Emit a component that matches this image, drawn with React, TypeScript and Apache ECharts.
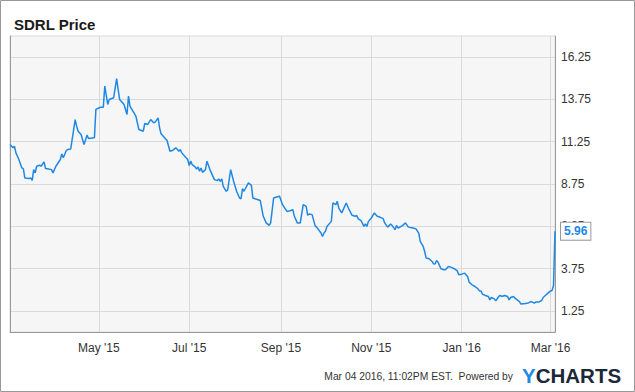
import { useEffect, useRef } from 'react';
import * as echarts from 'echarts';

const titleText = 'SDRL Price';
const footerText = 'Mar 04 2016, 11:02PM EST.  Powered by';
const brandFirst = 'Y';
const brandRest = 'CHARTS';

const dates = [
  '2015-03-02','2015-03-04','2015-03-05','2015-03-06','2015-03-08','2015-03-10','2015-03-11','2015-03-12','2015-03-15','2015-03-16',
  '2015-03-17','2015-03-18','2015-03-19','2015-03-20','2015-03-22','2015-03-23','2015-03-25','2015-03-26','2015-03-28','2015-03-30',
  '2015-03-31','2015-04-02','2015-04-05','2015-04-06','2015-04-07','2015-04-09','2015-04-10','2015-04-12','2015-04-15','2015-04-16',
  '2015-04-17','2015-04-19','2015-04-21','2015-04-23','2015-04-24','2015-04-28','2015-04-29','2015-05-02','2015-05-04','2015-05-05',
  '2015-05-07','2015-05-08','2015-05-11','2015-05-13','2015-05-15','2015-05-17','2015-05-18','2015-05-20','2015-05-21','2015-05-22',
  '2015-05-24','2015-05-26','2015-05-28','2015-05-31','2015-06-01','2015-06-03','2015-06-05','2015-06-07','2015-06-08','2015-06-10',
  '2015-06-11','2015-06-12','2015-06-15','2015-06-16','2015-06-18','2015-06-20','2015-06-22','2015-06-24','2015-06-25','2015-06-26',
  '2015-06-28','2015-06-30','2015-07-01','2015-07-02','2015-07-03','2015-07-05','2015-07-06','2015-07-07','2015-07-08','2015-07-09',
  '2015-07-10','2015-07-12','2015-07-13','2015-07-15','2015-07-16','2015-07-18','2015-07-20','2015-07-21','2015-07-22','2015-07-23',
  '2015-07-24','2015-07-26','2015-07-27','2015-07-29','2015-07-31','2015-08-02','2015-08-04','2015-08-05','2015-08-06','2015-08-07',
  '2015-08-10','2015-08-12','2015-08-13','2015-08-16','2015-08-18','2015-08-20','2015-08-22','2015-08-24','2015-08-25','2015-08-27',
  '2015-08-29','2015-08-31','2015-09-02','2015-09-05','2015-09-07','2015-09-09','2015-09-10','2015-09-12','2015-09-14','2015-09-16',
  '2015-09-18','2015-09-19','2015-09-20','2015-09-22','2015-09-24','2015-09-25','2015-09-28','2015-09-29','2015-09-30','2015-10-01',
  '2015-10-02','2015-10-05','2015-10-06','2015-10-08','2015-10-09','2015-10-10','2015-10-12','2015-10-15','2015-10-17','2015-10-19',
  '2015-10-21','2015-10-22','2015-10-23','2015-10-25','2015-10-27','2015-10-28','2015-10-29','2015-10-30','2015-11-01','2015-11-03',
  '2015-11-05','2015-11-07','2015-11-09','2015-11-10','2015-11-12','2015-11-14','2015-11-15','2015-11-17','2015-11-18','2015-11-19',
  '2015-11-22','2015-11-24','2015-11-26','2015-11-29','2015-12-01','2015-12-03','2015-12-04','2015-12-06','2015-12-07','2015-12-08',
  '2015-12-10','2015-12-12','2015-12-13','2015-12-14','2015-12-15','2015-12-16','2015-12-18','2015-12-20','2015-12-21','2015-12-23',
  '2015-12-25','2015-12-27','2015-12-29','2015-12-30','2016-01-01','2016-01-03','2016-01-05','2016-01-06','2016-01-08','2016-01-10',
  '2016-01-12','2016-01-13','2016-01-14','2016-01-15','2016-01-17','2016-01-19','2016-01-20','2016-01-21','2016-01-23','2016-01-24',
  '2016-01-26','2016-01-27','2016-01-28','2016-01-30','2016-02-01','2016-02-02','2016-02-03','2016-02-05','2016-02-06','2016-02-09',
  '2016-02-10','2016-02-13','2016-02-15','2016-02-17','2016-02-19','2016-02-20','2016-02-22','2016-02-24','2016-02-25','2016-02-27',
  '2016-02-29','2016-03-01','2016-03-02','2016-03-03','2016-03-04'
];

const prices = [
  11.08,10.89,10.98,10.59,10.20,9.70,9.66,9.11,9.07,9.11,
  8.97,9.60,9.41,9.80,9.86,9.80,10.06,9.66,9.64,9.60,
  9.41,9.80,10.20,10.53,10.30,10.73,10.79,10.82,12.56,12.17,
  11.87,11.68,11.08,11.64,11.44,11.48,13.16,13.29,13.29,14.54,
  13.45,13.75,13.85,14.98,13.75,13.55,13.45,12.86,13.95,13.35,
  13.06,12.76,11.97,11.87,12.33,12.27,12.56,12.37,12.41,12.66,
  12.07,11.72,11.42,11.34,10.69,10.75,10.89,10.69,10.79,10.59,
  10.39,10.20,9.84,10.10,9.90,9.76,9.64,9.76,9.50,9.70,
  9.44,9.60,10.10,9.60,9.41,9.01,8.95,9.05,8.91,9.05,
  8.61,8.32,8.40,9.60,8.91,8.32,7.92,7.88,8.48,8.32,
  8.82,8.67,7.92,7.83,7.77,6.84,6.45,6.30,6.45,7.92,
  7.98,8.02,7.53,7.13,7.17,7.23,6.84,6.45,6.45,7.53,
  7.43,6.90,6.98,6.94,6.29,6.20,5.85,5.65,5.85,5.95,
  6.24,6.54,7.63,7.53,7.72,7.33,7.04,7.63,7.23,6.90,
  6.84,6.90,6.70,6.58,6.24,6.39,6.24,6.54,6.74,7.04,
  6.84,6.78,6.70,6.45,6.20,6.39,6.30,6.05,6.30,6.15,
  6.29,6.45,6.20,6.15,6.11,5.85,5.36,5.06,4.76,4.37,
  4.33,4.17,4.03,4.02,4.23,4.13,3.74,3.68,3.68,3.87,
  3.82,3.74,3.62,3.38,3.42,3.48,3.28,2.95,2.79,2.69,
  2.55,2.43,2.43,2.24,2.16,2.10,1.90,2.04,1.96,1.84,
  2.10,2.16,2.10,2.16,2.10,1.90,2.04,2.10,2.00,1.80,
  1.65,1.68,1.72,1.80,1.71,1.77,1.77,1.86,2.04,2.20,
  2.36,2.43,2.45,2.75,5.96
];

const monthTicks = ['2015-05-01', '2015-07-01', '2015-09-01', '2015-11-01', '2016-01-01', '2016-03-01'];
const yTickLabels = ['1.25', '3.75', '6.25', '8.75', '11.25', '13.75', '16.25'];
const monthNames = ['Jan', 'Feb', 'Mar', 'Apr', 'May', 'Jun', 'Jul', 'Aug', 'Sep', 'Oct', 'Nov', 'Dec'];

function toTime(s: string): number {
  const [y, m, d] = s.split('-').map(Number);
  return Date.UTC(y, m - 1, d);
}

const FONT = '"Liberation Sans", Arial, sans-serif';

export default function App() {
  const ref = useRef<HTMLDivElement>(null);

  useEffect(() => {
    if (!ref.current) return;
    const chart = echarts.init(ref.current, undefined, { renderer: 'svg' });
    const seriesData = dates.map((d, i) => [toTime(d), prices[i]]);
    const tickTimes = monthTicks.map(toTime);

    chart.setOption({
      animation: false,
      backgroundColor: '#ffffff',
      title: {
        text: titleText,
        left: 9,
        top: 12,
        textStyle: { fontSize: 15, fontWeight: 'bold', color: '#1a1a1a', fontFamily: FONT },
      },
      grid: {
        left: 10,
        top: 36,
        right: 80,
        bottom: 60,
        show: true,
        backgroundColor: '#f6f6f6',
        borderColor: '#dadada',
        borderWidth: 1,
      },
      xAxis: {
        type: 'value',
        min: toTime(dates[0]),
        max: toTime(dates[dates.length - 1]),
        axisLine: { show: true, lineStyle: { color: '#999999', width: 1 } },
        axisTick: { show: false, customValues: tickTimes },
        axisLabel: {
          customValues: tickTimes,
          color: '#333333',
          fontSize: 12,
          fontFamily: FONT,
          margin: 10,
          hideOverlap: false,
          showMinLabel: true,
          showMaxLabel: true,
          formatter: (v: number) => {
            const dt = new Date(v);
            return monthNames[dt.getUTCMonth()] + " '" + String(dt.getUTCFullYear()).slice(2);
          },
        },
        splitLine: { show: true, showMinLine: true, showMaxLine: true, lineStyle: { color: '#dadada', width: 1 } },
      },
      yAxis: [
        {
          type: 'value',
          position: 'right',
          min: 0,
          max: 17.5,
          interval: 1.25,
          axisLine: { show: true, lineStyle: { color: '#999999', width: 1 } },
          axisTick: { show: false },
          axisLabel: {
            color: '#333333',
            fontSize: 12,
            fontFamily: FONT,
            margin: 6,
            formatter: (v: number) => (yTickLabels.includes(v.toFixed(2)) ? v.toFixed(2) : ''),
          },
          splitLine: { show: true, lineStyle: { color: ['rgba(0,0,0,0)', '#dadada'], width: 1 } },
        },
        {
          type: 'value',
          position: 'left',
          min: 0,
          max: 17.5,
          interval: 1.25,
          axisLine: { show: true, lineStyle: { color: '#999999', width: 1 } },
          axisTick: { show: false },
          axisLabel: { show: false },
          splitLine: { show: false },
        },
      ],
      series: [
        {
          type: 'line',
          yAxisIndex: 0,
          data: seriesData,
          showSymbol: false,
          symbol: 'none',
          lineStyle: { color: '#1e88e5', width: 1.5 },
          endLabel: {
            show: true,
            formatter: (p: any) => Number(p.value[1]).toFixed(2),
            color: '#1e88e5',
            fontWeight: 'bold',
            fontSize: 12,
            fontFamily: FONT,
            backgroundColor: '#ffffff',
            borderColor: '#999999',
            borderWidth: 1,
            padding: [3, 3, 2, 3],
            distance: 6,
          },
        },
      ],
      graphic: [
        {
          type: 'rect',
          silent: true,
          shape: { x: 0.5, y: 0.5, width: 634, height: 391 },
          style: { fill: 'none', stroke: '#999999', lineWidth: 1 },
        },
        {
          type: 'text',
          silent: true,
          style: {
            x: 513,
            y: 376,
            text: footerText,
            align: 'right',
            verticalAlign: 'middle',
            font: '10.3px ' + FONT,
            fill: '#333333',
          },
        },
        {
          type: 'text',
          silent: true,
          style: {
            x: 522,
            y: 375,
            text: '{a|' + brandFirst + '}{b|' + brandRest + '}',
            verticalAlign: 'middle',
            rich: {
              a: { fill: '#1e88e5', font: 'bold 20.5px ' + FONT },
              b: { fill: '#1b2838', font: 'bold 20.5px ' + FONT },
            },
          },
        },
      ],
    });

    return () => chart.dispose();
  }, []);

  return (
    <div
      ref={ref}
      style={{ position: 'absolute', left: 0, top: 0, width: 635, height: 392 }}
    />
  );
}
